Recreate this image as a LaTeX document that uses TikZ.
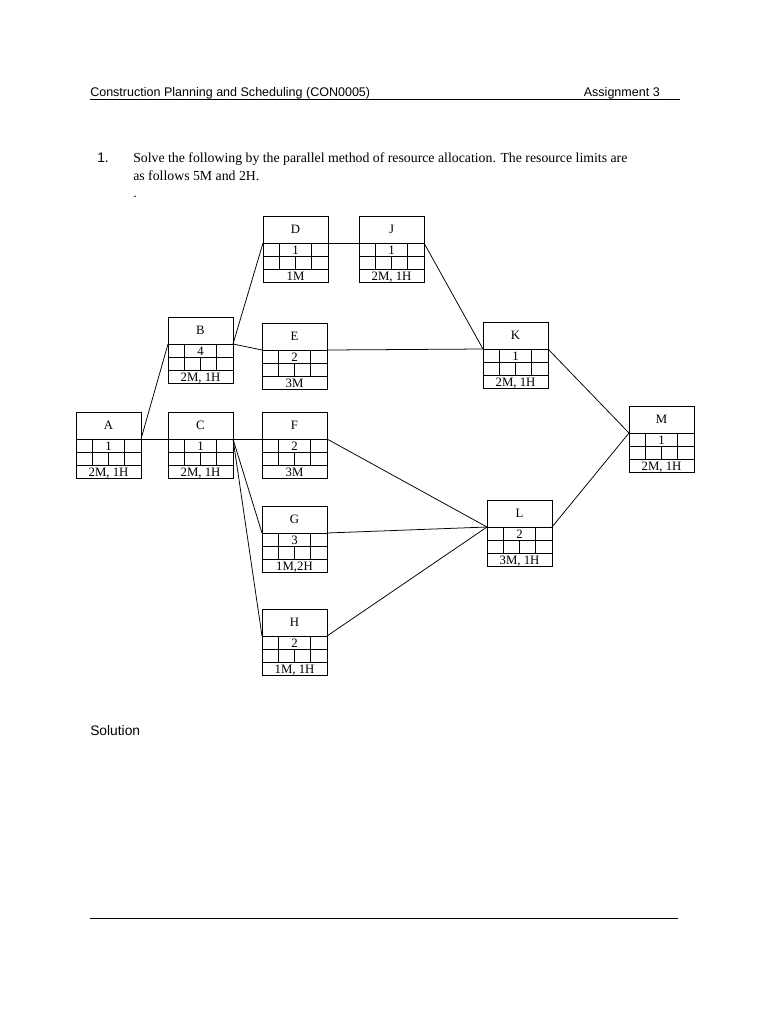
\documentclass[tikz,border=0pt]{standalone}
\usepackage{fontspec}
\setmainfont{Liberation Serif}
\newfontfamily\headfont{Liberation Sans}
\usetikzlibrary{positioning, calc}

\begin{document}
\begin{tikzpicture}[
    x=0.0275cm, y=-0.0275cm,
    actname/.style={rectangle, draw, line width=0.6pt, inner sep=0pt, outer sep=0pt,
                    minimum width=1.7875cm, minimum height=0.7425cm, font=\normalsize},
    actcell/.style={rectangle, draw, line width=0.6pt, inner sep=0pt, outer sep=0pt,
                    minimum width=1.7875cm, minimum height=0.3575cm,
                    text height=0.30cm, text depth=0pt, font=\normalsize},
    pagetext/.style={inner sep=0pt, anchor=base west},
    conn/.style={line width=0.6pt},
    grid/.style={line width=0.6pt},
  ]
    \useasboundingbox (0,0) rectangle (768,1024);

    % Page header
    \node[pagetext, font=\headfont\fontsize{9.8}{11}\selectfont] (title) at (90,96)
         {Construction Planning and Scheduling (CON0005)};
    \node[pagetext, anchor=base east, font=\headfont\fontsize{9.8}{11}\selectfont] (assign) at (660,96)
         {Assignment 3};
    \draw[line width=0.6pt] (90,99) -- (680,99);

    % Question
    \node[pagetext, font=\headfont\fontsize{10.8}{12}\selectfont] (qnum) at (97,162) {1.};
    \node[pagetext, font=\fontsize{10.8}{12}\selectfont] (qline1) at (133,162)
         {Solve the following by the parallel method of resource allocation. The resource limits are};
    \node[pagetext, font=\fontsize{10.8}{12}\selectfont] (qline2) at (133,180) {as follows 5M and 2H.};
    \node[pagetext, font=\fontsize{10.8}{12}\selectfont] (qdot) at (133,197) {.};

    % Activities: name / x / y / duration / resources
    \foreach \n/\x/\y/\d/\r in {A/76/412/1/{2M, 1H}, B/168/317/4/{2M, 1H},
        C/168/412/1/{2M, 1H}, D/263/216/1/{1M}, E/262/323/2/{3M},
        F/262/412/2/{3M}, G/262/506/3/{1M,2H}, H/262/609/2/{1M, 1H},
        J/359/216/1/{2M, 1H}, K/483/322/1/{2M, 1H}, L/487/500/2/{3M, 1H},
        M/629/406/1/{2M, 1H}} {
      \node[actname, anchor=north west] (\n) at (\x,\y) {\n};
      \node[actcell, below=0pt of \n] (\n-dur) {\d};
      \node[actcell, below=0pt of \n-dur] (\n-mid) {};
      \node[actcell, below=0pt of \n-mid] (\n-res) {\r};
      \draw[grid] ($(\n-dur.north west)!0.25!(\n-dur.north east)$)
                  -- ($(\n-mid.south west)!0.25!(\n-mid.south east)$);
      \draw[grid] ($(\n-dur.north west)!0.75!(\n-dur.north east)$)
                  -- ($(\n-mid.south west)!0.75!(\n-mid.south east)$);
      \draw[grid] ($(\n-mid.north west)!0.5!(\n-mid.north east)$)
                  -- ($(\n-mid.south west)!0.5!(\n-mid.south east)$);
    }

    % Dependencies
    \foreach \a/\b in {A/B, A/C, B/D, B/E, D/J, J/K, E/K, C/F, C/G, C/H,
                       F/L, G/L, H/L, K/M, L/M}
      \draw[conn] (\a.south east) -- (\b.south west);

    % Solution
    \node[pagetext, font=\headfont\fontsize{10.8}{12}\selectfont] (sol) at (90,735) {Solution};

    % Page footer
    \draw[line width=0.6pt] (90,918) -- (678,918);
  \end{tikzpicture}
\end{document}
